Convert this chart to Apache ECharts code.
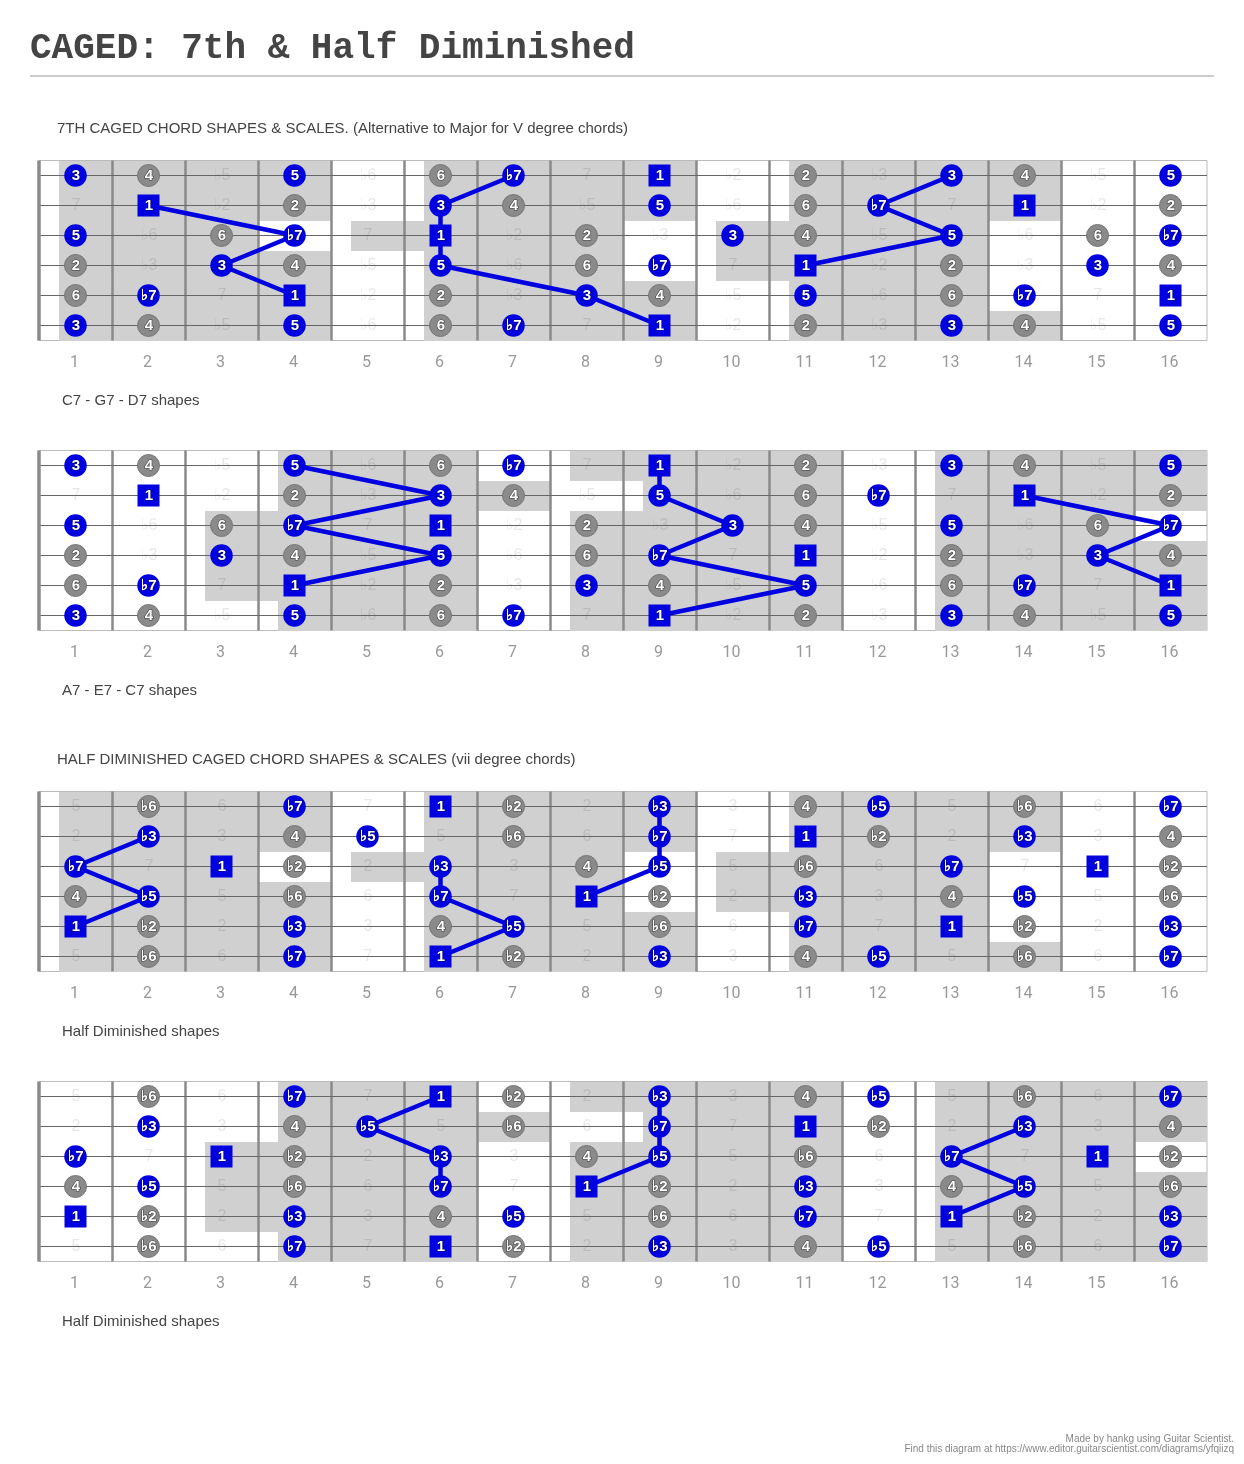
<!DOCTYPE html>
<html>
<head>
<meta charset="utf-8">
<title>CAGED: 7th & Half Diminished</title>
<script src="https://cdn.jsdelivr.net/npm/echarts@6/dist/echarts.min.js"></script>
<style>
    html, body { margin: 0; padding: 0; background: #fff; }
    #chart { width: 1244px; height: 1464px; }
</style>
</head>
<body>
<div id="chart"></div>
<script>
const frets = ['1', '2', '3', '4', '5', '6', '7', '8', '9', '10', '11', '12', '13', '14', '15', '16'];
const strings = [1, 2, 3, 4, 5, 6];

// tones per string, top string first, one entry per fret
const tones7th = [
    ['3', '4', '♭5', '5', '♭6', '6', '♭7', '7', '1', '♭2', '2', '♭3', '3', '4', '♭5', '5'],
    ['7', '1', '♭2', '2', '♭3', '3', '4', '♭5', '5', '♭6', '6', '♭7', '7', '1', '♭2', '2'],
    ['5', '♭6', '6', '♭7', '7', '1', '♭2', '2', '♭3', '3', '4', '♭5', '5', '♭6', '6', '♭7'],
    ['2', '♭3', '3', '4', '♭5', '5', '♭6', '6', '♭7', '7', '1', '♭2', '2', '♭3', '3', '4'],
    ['6', '♭7', '7', '1', '♭2', '2', '♭3', '3', '4', '♭5', '5', '♭6', '6', '♭7', '7', '1'],
    ['3', '4', '♭5', '5', '♭6', '6', '♭7', '7', '1', '♭2', '2', '♭3', '3', '4', '♭5', '5']
];
const tonesHalf = [
    ['5', '♭6', '6', '♭7', '7', '1', '♭2', '2', '♭3', '3', '4', '♭5', '5', '♭6', '6', '♭7'],
    ['2', '♭3', '3', '4', '♭5', '5', '♭6', '6', '♭7', '7', '1', '♭2', '2', '♭3', '3', '4'],
    ['♭7', '7', '1', '♭2', '2', '♭3', '3', '4', '♭5', '5', '♭6', '6', '♭7', '7', '1', '♭2'],
    ['4', '♭5', '5', '♭6', '6', '♭7', '7', '1', '♭2', '2', '♭3', '3', '4', '♭5', '5', '♭6'],
    ['1', '♭2', '2', '♭3', '3', '4', '♭5', '5', '♭6', '6', '♭7', '7', '1', '♭2', '2', '♭3'],
    ['5', '♭6', '6', '♭7', '7', '1', '♭2', '2', '♭3', '3', '4', '♭5', '5', '♭6', '6', '♭7']
];
const chordTones7th = ['3', '5', '♭7'];
const scaleTones7th = ['2', '4', '6'];
const chordTonesHalf = ['♭3', '♭5', '♭7'];
const scaleTonesHalf = ['4', '♭2', '♭6'];

// shaded spans: [string, from, to] in fret units
const shadesA = [
    [1, 0.27, 4.01], [1, 5.27, 9.01], [1, 10.27, 14.01],
    [2, 0.27, 4.01], [2, 5.27, 9.01], [2, 10.27, 14.01],
    [3, 0.27, 3.02], [3, 4.27, 8.02], [3, 9.27, 13.02],
    [4, 0.27, 4.01], [4, 5.27, 8.02], [4, 9.27, 13.02],
    [5, 0.27, 4.01], [5, 5.27, 9.01], [5, 10.27, 13.02],
    [6, 0.27, 4.01], [6, 5.27, 9.01], [6, 10.27, 14.01]
];
const shadesB = [
    [1, 3.27, 6.01], [1, 7.27, 11.01], [1, 12.27, 16],
    [2, 3.27, 7.01], [2, 8.27, 11.01], [2, 12.27, 16],
    [3, 2.27, 6.01], [3, 7.27, 11.01], [3, 12.27, 15.02],
    [4, 2.27, 6.01], [4, 7.27, 11.01], [4, 12.27, 16],
    [5, 2.27, 6.01], [5, 7.27, 11.01], [5, 12.27, 16],
    [6, 3.27, 6.01], [6, 7.27, 11.01], [6, 12.27, 16]
];

// shape lines: lists of [fret, string]
const paths1 = [
    [[2, 2], [4, 3], [3, 4], [4, 5]],
    [[7, 1], [6, 2], [6, 3], [6, 4], [8, 5], [9, 6]],
    [[13, 1], [12, 2], [13, 3], [11, 4]]
];
const paths2 = [
    [[4, 1], [6, 2], [4, 3], [6, 4], [4, 5]],
    [[9, 1], [9, 2], [10, 3], [9, 4], [11, 5], [9, 6]],
    [[14, 2], [16, 3], [15, 4], [16, 5]]
];
const paths3 = [
    [[2, 2], [1, 3], [2, 4], [1, 5]],
    [[6, 3], [6, 4], [7, 5], [6, 6]],
    [[9, 1], [9, 2], [9, 3], [8, 4]]
];
const paths4 = [
    [[6, 1], [5, 2], [6, 3], [6, 4]],
    [[9, 1], [9, 2], [9, 3], [8, 4]],
    [[14, 2], [13, 3], [14, 4], [13, 5]]
];

const gridTops = [160.5, 450.5, 791.5, 1081.5];
const diagrams = [
    { tones: tones7th, chord: chordTones7th, scale: scaleTones7th, shades: shadesA, paths: paths1 },
    { tones: tones7th, chord: chordTones7th, scale: scaleTones7th, shades: shadesB, paths: paths2 },
    { tones: tonesHalf, chord: chordTonesHalf, scale: scaleTonesHalf, shades: shadesA, paths: paths3 },
    { tones: tonesHalf, chord: chordTonesHalf, scale: scaleTonesHalf, shades: shadesB, paths: paths4 }
];

const BLUE = '#0000e0';
const FONT = '"Liberation Sans", Arial, sans-serif';

function renderShade(params, api) {
    const start = api.coord([api.value(1), api.value(0) - 1]);
    const end = api.coord([api.value(2), api.value(0)]);
    // snap to whole pixels so stacked rows leave no seam
    const x = Math.round(start[0]);
    const y = Math.round(start[1]);
    return {
        type: 'rect',
        shape: { x, y, width: Math.round(end[0]) - x, height: Math.round(end[1]) - y },
        style: { fill: '#d0d0d0' }
    };
}

function pickNotes(tones, test) {
    const out = [];
    tones.forEach((row, s) => {
        row.forEach((tone, f) => {
            if (test(tone)) out.push([f + 0.5, s + 0.5, tone]);
        });
    });
    return out;
}

function noteSeries(index, data, symbol, size, itemStyle, label, z) {
    return {
        type: 'scatter',
        xAxisIndex: index * 2,
        yAxisIndex: index,
        data,
        symbol,
        symbolSize: size,
        itemStyle,
        z,
        silent: true,
        label: Object.assign({
            show: true,
            position: 'inside',
            fontFamily: FONT,
            formatter: p => p.value[2]
        }, label)
    };
}

const noteLabel = {
    color: '#fff',
    fontSize: 15,
    fontWeight: 'bold',
    textBorderColor: 'rgba(0,0,0,0.55)',
    textBorderWidth: 1.2,
    padding: [1, 0, 0, 1]
};

const grid = [];
const xAxis = [];
const yAxis = [];
const series = [];

diagrams.forEach((d, i) => {
    grid.push({
        left: 39,
        top: gridTops[i],
        width: 1168,
        height: 180,
        show: true,
        backgroundColor: 'transparent',
        borderColor: '#bbb',
        borderWidth: 1
    });
    xAxis.push({
        type: 'value',
        gridIndex: i,
        min: 0,
        max: 16,
        interval: 1,
        z: 3,
        axisLine: { show: false },
        axisTick: { show: false },
        axisLabel: { show: false },
        splitLine: {
            show: true,
            showMinLine: false,
            showMaxLine: false,
            lineStyle: { color: '#8a8a8a', width: 2.5 }
        }
    });
    xAxis.push({
        type: 'category',
        gridIndex: i,
        position: 'bottom',
        data: frets,
        z: 3,
        axisLine: { show: false },
        axisTick: { show: false },
        splitLine: { show: false },
        axisLabel: {
            interval: 0,
            margin: 14,
            color: '#999',
            fontSize: 16,
            fontFamily: 'Roboto, sans-serif',
            padding: [0, 2, 0, 0]
        }
    });
    yAxis.push({
        type: 'value',
        gridIndex: i,
        min: 0,
        max: 6,
        interval: 1,
        inverse: true,
        show: false
    });

    series.push({
        type: 'custom',
        xAxisIndex: i * 2,
        yAxisIndex: i,
        data: d.shades,
        renderItem: renderShade,
        silent: true,
        z: 1
    });
    series.push({
        type: 'line',
        xAxisIndex: i * 2,
        yAxisIndex: i,
        data: [],
        silent: true,
        z: 4,
        markLine: {
            silent: true,
            symbol: 'none',
            animation: false,
            label: { show: false },
            lineStyle: { color: '#666', width: 1, type: 'solid' },
            data: strings.map(s => ({ yAxis: s - 0.5 })).concat([
                { xAxis: 0, lineStyle: { color: '#8a8a8a', width: 3.5, type: 'solid' } }
            ])
        }
    });
    d.paths.forEach(path => {
        series.push({
            type: 'line',
            xAxisIndex: i * 2,
            yAxisIndex: i,
            data: path.map(p => [p[0] - 0.5, p[1] - 0.5]),
            symbol: 'none',
            silent: true,
            z: 6,
            lineStyle: { color: BLUE, width: 4.5 }
        });
    });

    const isRoot = t => t === '1';
    const isChord = t => d.chord.includes(t);
    const isScale = t => d.scale.includes(t);
    const isFaint = t => !isRoot(t) && !isChord(t) && !isScale(t);

    series.push(noteSeries(i, pickNotes(d.tones, isFaint), 'circle', 1,
        { color: 'transparent' },
        { color: 'rgba(0,0,0,0.12)', fontSize: 16, padding: [1, 0, 0, 1] }, 3));
    series.push(noteSeries(i, pickNotes(d.tones, isScale), 'circle', 22,
        { color: '#8a8a8a', borderColor: '#777', borderWidth: 1, opacity: 1 }, noteLabel, 7));
    series.push(noteSeries(i, pickNotes(d.tones, isChord), 'circle', 22.5,
        { color: BLUE, opacity: 1 }, noteLabel, 7));
    series.push(noteSeries(i, pickNotes(d.tones, isRoot), 'rect', 22,
        { color: BLUE, opacity: 1 }, noteLabel, 7));
});

function textTitle(text, left, top, fontSize, color, extra) {
    return {
        text,
        left,
        top,
        padding: 0,
        textStyle: Object.assign({ fontFamily: FONT, fontSize, fontWeight: 'normal', color }, extra)
    };
}

const title = [
    textTitle('CAGED: 7th & Half Diminished', 30, 31, 36, '#444',
        { fontFamily: '"Liberation Mono", monospace', fontWeight: 'bold' }),
    textTitle('7TH CAGED CHORD SHAPES & SCALES. (Alternative to Major for V degree chords)', 57, 121, 15, '#444'),
    textTitle('C7 - G7 - D7 shapes', 62, 393, 15, '#444'),
    textTitle('A7 - E7 - C7 shapes', 62, 683, 15, '#444'),
    textTitle('HALF DIMINISHED CAGED CHORD SHAPES & SCALES (vii degree chords)', 57, 752, 15, '#444'),
    textTitle('Half Diminished shapes', 62, 1024, 15, '#444'),
    textTitle('Half Diminished shapes', 62, 1314, 15, '#444'),
    textTitle('Made by hankg using Guitar Scientist.', 'auto', 1434, 10, '#888'),
    textTitle('Find this diagram at https://www.editor.guitarscientist.com/diagrams/yfqiizq', 'auto', 1444, 10, '#888')
];
title[7].right = 10;
title[8].right = 10;
delete title[7].left;
delete title[8].left;

const chart = echarts.init(document.getElementById('chart'), null, { renderer: 'canvas' });
chart.setOption({
    animation: false,
    backgroundColor: '#fff',
    title,
    grid,
    xAxis,
    yAxis,
    series,
    graphic: [{
        type: 'line',
        silent: true,
        shape: { x1: 30, y1: 76, x2: 1214, y2: 76 },
        style: { stroke: '#ccc', lineWidth: 2 }
    }]
});
</script>
</body>
</html>
